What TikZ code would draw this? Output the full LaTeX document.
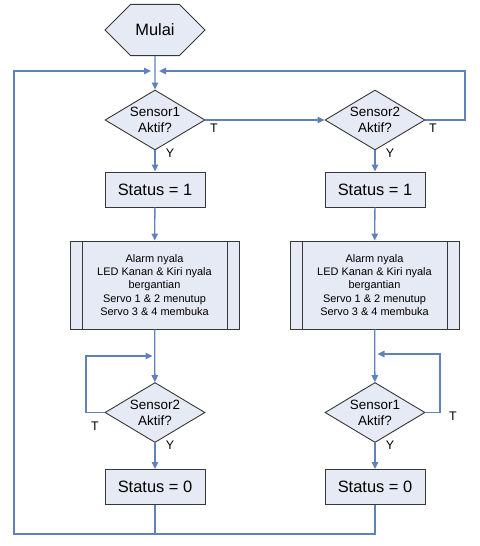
\documentclass[tikz,border=0pt]{standalone}
\usepackage{fontspec}
\setmainfont{Liberation Sans}
\usetikzlibrary{shapes.geometric,shapes.misc,arrows.meta}
\definecolor{flowline}{RGB}{95,130,190}
\definecolor{flowfill}{RGB}{230,234,244}
\definecolor{flowedge}{RGB}{55,55,55}

\begin{document}
\begin{tikzpicture}[x=1bp, y=-1bp,
    every node/.style={inner sep=0pt, text centered},
    shape line/.style={draw=flowedge, fill=flowfill, line width=0.9bp},
    startbox/.style={shape line, chamfered rectangle, chamfered rectangle xsep=20bp,
        chamfered rectangle ysep=20bp, minimum width=100bp, minimum height=40bp,
        font=\fontsize{16.5}{19}\selectfont},
    decision/.style={shape line, diamond, aspect=1.67, minimum width=100bp,
        minimum height=60bp, align=center, font=\fontsize{13.5}{16}\selectfont},
    statusbox/.style={shape line, rectangle, minimum width=100bp, minimum height=35bp,
        font=\fontsize{16.5}{19}\selectfont},
    process/.style={shape line, rectangle, minimum width=169bp, minimum height=88bp,
        align=center, font=\fontsize{11}{13.5}\selectfont,
        path picture={
          \draw[draw=flowedge, line width=0.9bp]
            ([xshift=12bp]path picture bounding box.north west) -- ([xshift=12bp]path picture bounding box.south west)
            ([xshift=-12bp]path picture bounding box.north east) -- ([xshift=-12bp]path picture bounding box.south east);}},
    lbl/.style={font=\fontsize{12.5}{14}\selectfont},
    flow/.style={draw=flowline, line width=1.3bp},
    arr/.style={flow, -{Triangle[width=6.5bp,length=7bp]}}]
\useasboundingbox (0,0) rectangle (480,546);

% left column
\node [startbox] (start) at (155,30) {Mulai};
\node [decision] (d1) at (155,120) {Sensor1\\Aktif?};
\node [statusbox] (st1a) at (155,189.5) {Status = 1};
\node [process] (pa) at (154.5,285) {Alarm nyala\\LED Kanan \& Kiri nyala\\bergantian\\Servo 1 \& 2 menutup\\Servo 3 \& 4 membuka};
\node [decision] (d3) at (155,412.5) {Sensor2\\Aktif?};
\node [statusbox] (st0a) at (155,487) {Status = 0};

% right column
\node [decision] (d2) at (375,120) {Sensor2\\Aktif?};
\node [statusbox] (st1b) at (375,189.5) {Status = 1};
\node [process] (pb) at (374.5,285) {Alarm nyala\\LED Kanan \& Kiri nyala\\bergantian\\Servo 1 \& 2 menutup\\Servo 3 \& 4 membuka};
\node [decision] (d4) at (375,412.5) {Sensor1\\Aktif?};
\node [statusbox] (st0b) at (375,487) {Status = 0};

% labels
\node [lbl] (t1) at (214,128) {T};
\node [lbl] (y1) at (170,153) {Y};
\node [lbl] (t2) at (433,128) {T};
\node [lbl] (y2) at (390,153) {Y};
\node [lbl] (t3) at (95,426) {T};
\node [lbl] (y3) at (170,445) {Y};
\node [lbl] (t4) at (453,416) {T};
\node [lbl] (y4) at (390,445) {Y};

% corner points
\coordinate (botleft) at (14,534);
\coordinate (topleft) at (14,71);
\coordinate (topright) at (465,71);
\coordinate (loopL) at (86,356);
\coordinate (loopR) at (440,354);

% connectors
\draw [arr] (start) -- (d1);
\draw [arr] (d1) -- (st1a);
\draw [arr] (st1a) -- (pa);
\draw [arr] (pa) -- (d3);
\draw [arr] (d3) -- (st0a);
\draw [arr] (d1.east) -- (d2.west);
\draw [arr] (d2) -- (st1b);
\draw [arr] (st1b) -- (pb);
\draw [arr] (pb) -- (d4);
\draw [arr] (d4) -- (st0b);

\draw [arr, shorten >=2.5bp] (d3.west) -| (loopL) -- (loopL -| d3.north);
\draw [arr, shorten >=2.5bp] (d4.east) -| (loopR) -- (loopR -| d4.north);

\draw [arr, shorten >=4bp] (st0a.south) -- (st0a.south |- botleft) -- (botleft) -- (topleft) -- (topleft -| start.south);
\draw [flow] (st0b.south) -- (st0b.south |- botleft) -- (st0a.south |- botleft);
\draw [arr, shorten >=4bp] (d2.east) -| (topright) -- (topright -| start.south);

\end{tikzpicture}
\end{document}
